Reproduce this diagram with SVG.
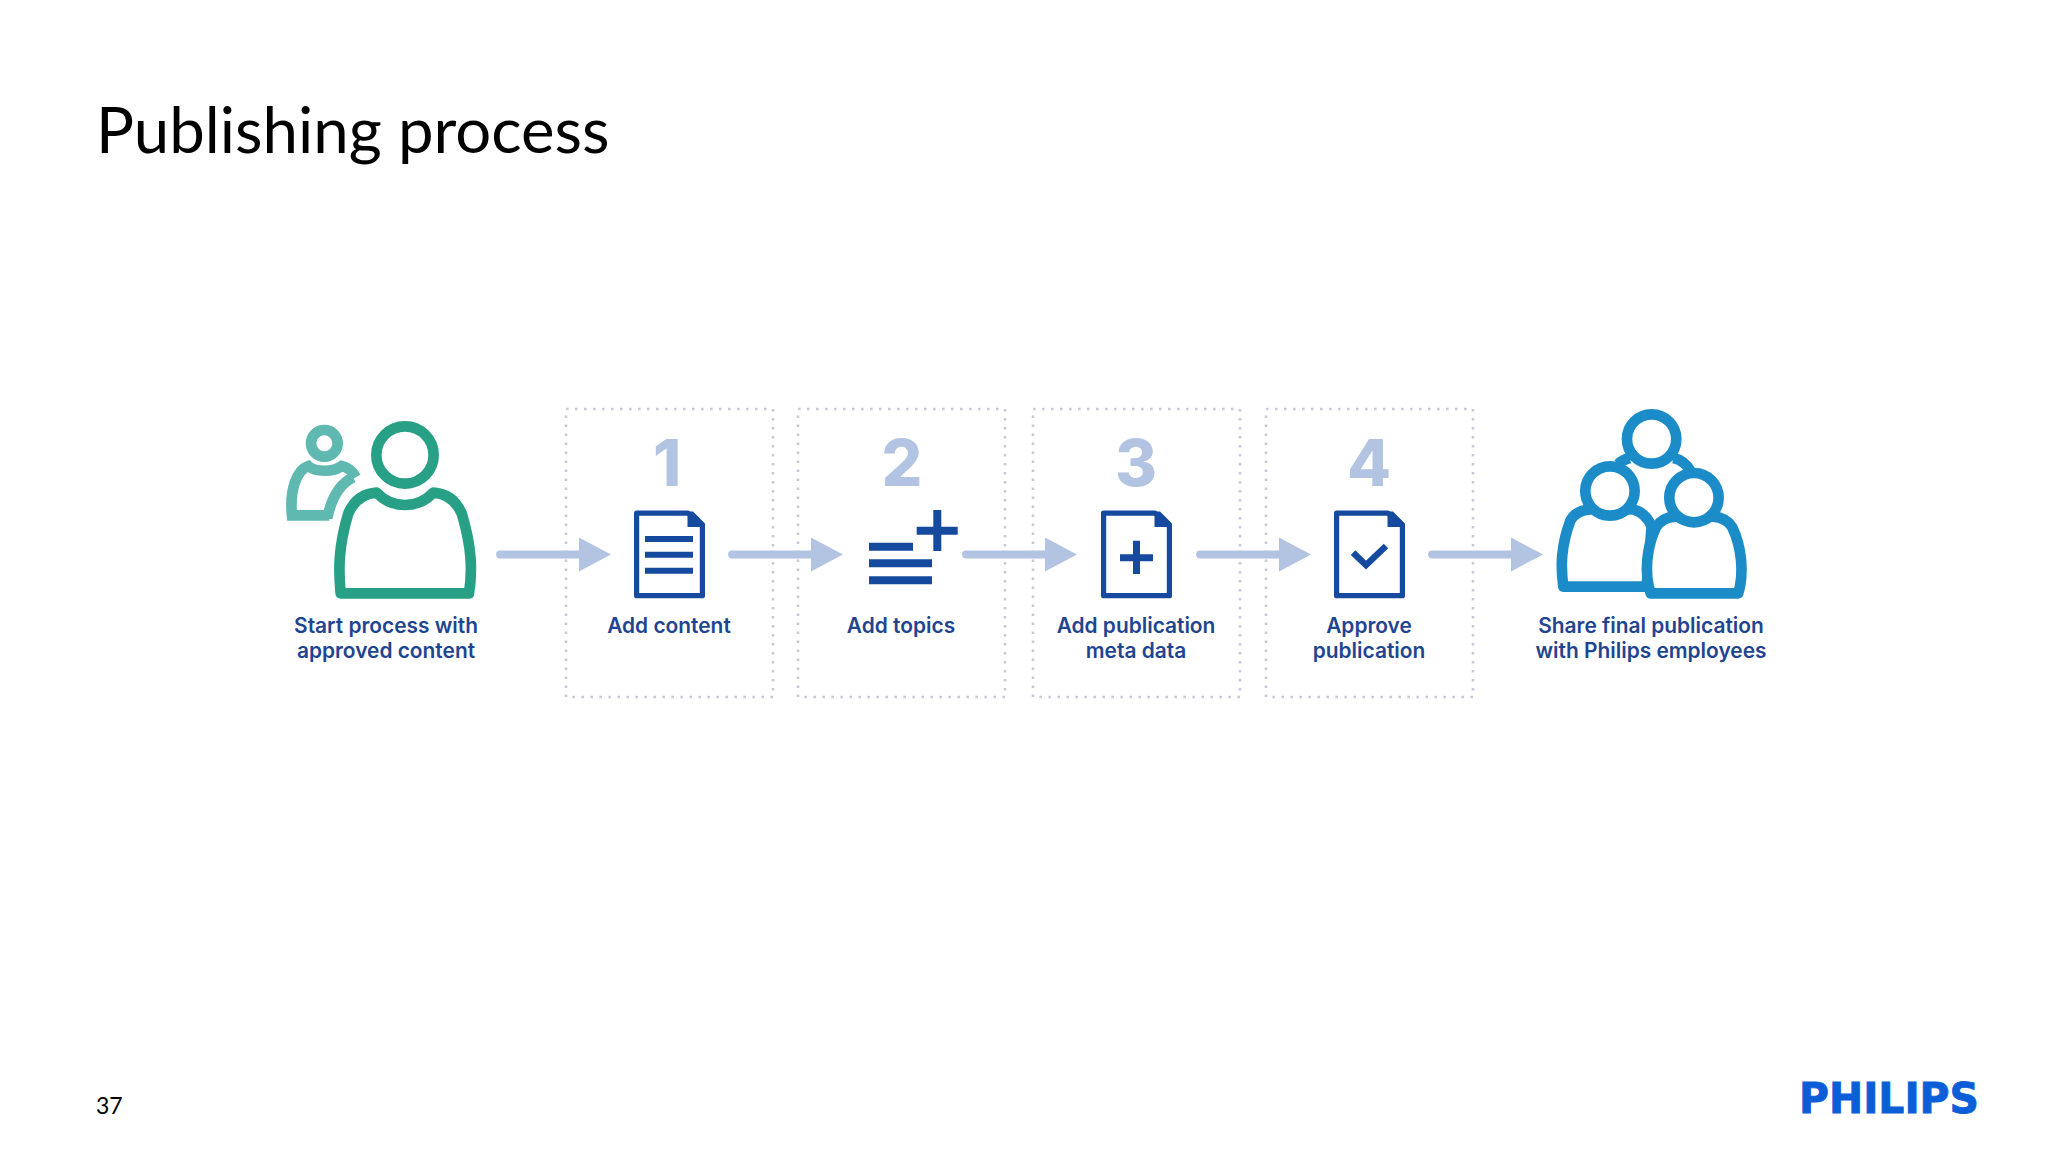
<svg xmlns="http://www.w3.org/2000/svg" width="2048" height="1152" viewBox="0 0 2048 1152">
<style>
.title{font-family:Lato,"Open Sans",sans-serif;font-size:63.5px;fill:#000}
.page{font-family:Lato,"Open Sans",sans-serif;font-size:23px;fill:#000}
.label{font-family:Inter,"Noto Sans",sans-serif;font-weight:600;font-size:20.9px;fill:#1f4591;text-anchor:middle}
.num{font-family:Inter,"Noto Sans",sans-serif;font-weight:800;font-size:64px;fill:#b2c4e2;text-anchor:middle}
.box{fill:none;stroke:#c6cadc;stroke-width:2.6;stroke-dasharray:2.6 6.4}
.ink{fill:#fff;stroke:#154a9e;stroke-width:5.2;stroke-linejoin:round}
.solid{fill:#154a9e}
.bar{fill:none;stroke:#154a9e;stroke-linecap:butt}
.lead{fill:#fff;stroke:#27a085;stroke-width:32;stroke-linejoin:round}
.aide{fill:none;stroke:#5fb9b0;stroke-width:32}
.crowd{fill:#fff;stroke:#1c8cc8;stroke-width:32;stroke-linejoin:round}
.flow{stroke:#b3c4e3;stroke-width:7.8;stroke-linecap:round}
</style>
<defs>
<marker id="head" markerUnits="userSpaceOnUse" markerWidth="34" markerHeight="36" refX="0" refY="18" orient="auto"><path d="M0 1 L32 18 L0 35 Z" fill="#b3c4e3"/></marker>
<g id="page-shape"><path class="ink" d="M2.6 2.6H54L68.4 15V85.2H2.6Z"/><path class="solid" d="M53.5 1H59L71 13V16.5H53.5Z"/></g>
</defs>
<rect width="2048" height="1152" fill="#fff"/>
<text class="title" x="96" y="152.5">Publishing process</text>
<text class="page" x="96" y="1114">37</text>
<g id="boxes">
<rect class="box" x="566" y="409" width="207" height="288"/>
<rect class="box" x="798" y="409" width="207" height="288"/>
<rect class="box" x="1033" y="409" width="207" height="288"/>
<rect class="box" x="1266" y="409" width="207" height="288"/>
</g>
<g id="connectors">
<line class="flow" x1="500" y1="554.5" x2="579" y2="554.5" marker-end="url(#head)"/>
<line class="flow" x1="732" y1="554.5" x2="811" y2="554.5" marker-end="url(#head)"/>
<line class="flow" x1="966" y1="554.5" x2="1045" y2="554.5" marker-end="url(#head)"/>
<line class="flow" x1="1200" y1="554.5" x2="1279" y2="554.5" marker-end="url(#head)"/>
<line class="flow" x1="1432" y1="554.5" x2="1511" y2="554.5" marker-end="url(#head)"/>
</g>
<g id="start">
<g transform="translate(270 390) scale(.3333)">
<path class="aide" d="M178 376H66C58 300 80 240 115 228C135 247 190 247 215 228C235 232 248 245 258 262M250 262C210 280 185 320 172 384"/>
<circle class="aide" cx="163" cy="160" r="40"/>
<path class="lead" d="M212 610C205 540 205 470 235 370C255 325 285 310 320 308C345 335 375 345 405 345C435 345 465 335 490 308C525 310 555 325 575 370C605 470 608 540 597 610Z"/>
<circle class="lead" cx="405" cy="195" r="86"/>
</g>
<text class="label" x="386" y="633">Start process with</text>
<text class="label" x="386" y="657.5">approved content</text>
</g>
<g id="step1">
<text class="num" x="667" y="486">1</text>
<use href="#page-shape" x="634" y="510.5"/>
<path class="bar" stroke-width="6" d="M645 539H693M645 554.7H693M645 570.7H693"/>
<text class="label" x="669" y="633">Add content</text>
</g>
<g id="step2">
<text class="num" x="902" y="486">2</text>
<path class="bar" stroke-width="8" d="M869 546.7H913M869 563.3H932M869 580.3H932M916.7 530.7H957.7M937.3 510V551"/>
<text class="label" x="901" y="633">Add topics</text>
</g>
<g id="step3">
<text class="num" x="1136" y="486">3</text>
<use href="#page-shape" x="1101" y="510.5"/>
<path class="bar" stroke-width="7" d="M1120 557.7H1153M1136.5 540.7V574"/>
<text class="label" x="1136" y="633">Add publication</text>
<text class="label" x="1136" y="657.5">meta data</text>
</g>
<g id="step4">
<text class="num" x="1369" y="486">4</text>
<use href="#page-shape" x="1334" y="510.5"/>
<path class="bar" stroke-width="6.5" d="M1353 552.7L1366 565L1386 546"/>
<text class="label" x="1369" y="633">Approve</text>
<text class="label" x="1369" y="657.5">publication</text>
</g>
<g id="end">
<g transform="translate(1290 390) scale(.3333)">
<path class="crowd" style="fill:none" d="M985 222C995 212 1005 207 1020 204M1150 204C1170 208 1190 222 1203 245"/>
<circle class="crowd" cx="1085" cy="147" r="74"/>
<path class="crowd" d="M820 590C812 530 812 470 842 390C855 368 875 360 900 358H1030C1055 365 1075 385 1085 410L1070 590Z"/>
<circle class="crowd" cx="960" cy="303" r="74"/>
<path class="crowd" d="M1082 610C1062 550 1070 470 1098 412C1110 392 1130 382 1155 380H1270C1295 382 1315 392 1327 412C1355 470 1363 550 1345 610Z"/>
<circle class="crowd" cx="1212" cy="323" r="74"/>
</g>
<text class="label" x="1651" y="633">Share final publication</text>
<text class="label" x="1651" y="657.5">with Philips employees</text>
</g>
<text id="logo" x="1799" y="1113" font-family="DejaVu Sans" font-weight="700" font-size="42" fill="#0b5ed7" stroke="#0b5ed7" stroke-width=".9" textLength="180" lengthAdjust="spacingAndGlyphs">PHILIPS</text>
</svg>
